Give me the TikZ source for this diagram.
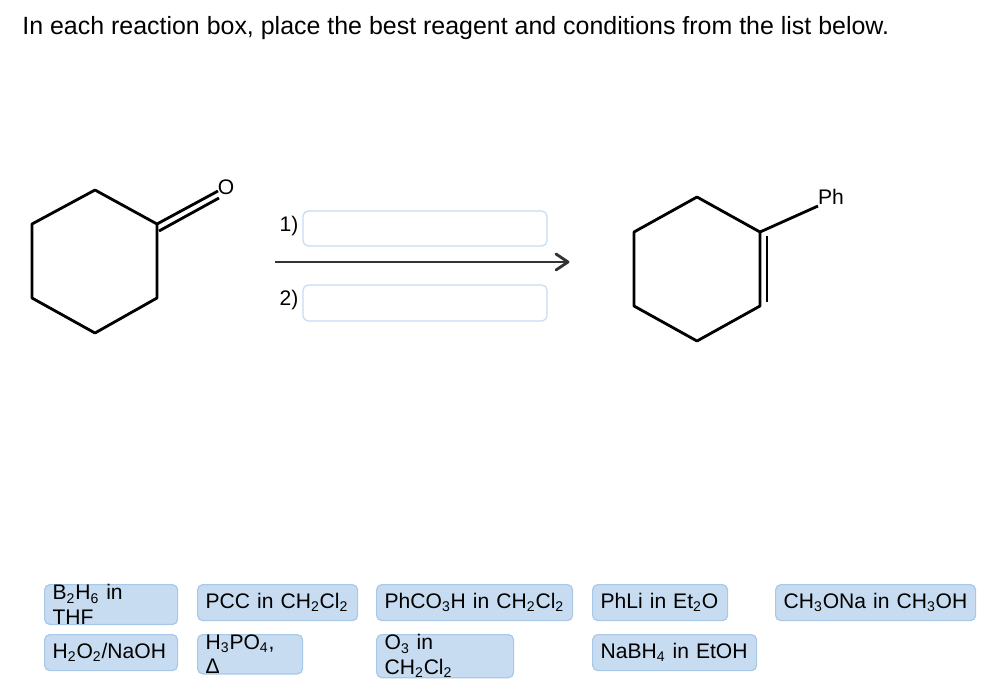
\documentclass[tikz,border=0pt]{standalone}
\usepackage{fontspec}
\setmainfont{Liberation Sans}
\newcommand{\sbs}[1]{\textsubscript{#1}}
\definecolor{rfill}{HTML}{C8DCF1}
\definecolor{rdraw}{HTML}{A8C8E8}
\definecolor{sdraw}{HTML}{C4DCF4}
\begin{document}
\begin{tikzpicture}[x=0.02cm,y=-0.02cm,
  bond/.style={line width=1.6pt,line join=round},
  slot/.style={draw=sdraw,rounded corners=3pt,line width=0.7pt},
  reag/.style={draw=rdraw,fill=rfill,rounded corners=3pt,line width=0.7pt,anchor=north west,inner xsep=0.16cm,inner ysep=0pt,align=left,text width=#1*0.02cm-0.32cm,minimum height=36*0.02cm,font=\fontsize{12pt}{14pt}\selectfont}]
\useasboundingbox (0,0) rectangle (1002,698);
\node[anchor=west,font=\fontsize{14.2pt}{17pt}\selectfont,inner sep=0pt] (title) at (22,28) {In each reaction box, place the best reagent and conditions from the list below.};
% ketone
\draw[bond] (95,190) -- (157,224) -- (157,298) -- (95,333) -- (32,298) -- (32,224) -- cycle;
\coordinate (c1) at (157,224);
\node[font=\fontsize{12pt}{14pt}\selectfont,inner sep=0pt] (O) at (226,187) {O};
\draw[bond] (c1) -- (218,191);
\draw[bond] (159,231) -- (219,198);
% product
\draw[bond] (697,197) -- (760,232) -- (760,306) -- (697,341) -- (634,306) -- (634,232) -- cycle;
\draw[bond] (767,236) -- (767,302);
\coordinate (c2) at (760,232);
\node[font=\fontsize{12pt}{14pt}\selectfont,inner sep=0pt] (Ph) at (831,197) {Ph};
\draw[bond] (c2) -- (818,206);
% arrow
\coordinate (a1) at (275,262); \coordinate (a2) at (568,262);
\draw[line width=1.6pt,black!80] (a1) -- (a2);
\draw[line width=1.6pt,black!80,line cap=round,line join=round] (556,254) -- (a2) -- (556,270);
\node[font=\fontsize{12pt}{14pt}\selectfont] (l1) at (289,226) {1)};
\node[font=\fontsize{12pt}{14pt}\selectfont] (l2) at (289,300) {2)};
\draw[slot] (303,211) rectangle (547,246);
\draw[slot] (303,285) rectangle (547,321);
% reagents
\node[reag=133] (r1) at (44,584) {B\sbs{2}H\sbs{6} in THF};
\node[reag=160] (r2) at (197,584) {PCC in CH\sbs{2}Cl\sbs{2}};
\node[reag=196] (r3) at (376,584) {PhCO\sbs{3}H in CH\sbs{2}Cl\sbs{2}};
\node[reag=135] (r4) at (592,584) {PhLi in Et\sbs{2}O};
\node[reag=200] (r5) at (775,584) {CH\sbs{3}ONa in CH\sbs{3}OH};
\node[reag=133] (r6) at (44,634) {H\sbs{2}O\sbs{2}/NaOH};
\node[reag=105] (r7) at (197,634) {H\sbs{3}PO\sbs{4}, Δ};
\node[reag=137] (r8) at (376,634) {O\sbs{3} in CH\sbs{2}Cl\sbs{2}};
\node[reag=164] (r9) at (592,634) {NaBH\sbs{4} in EtOH};
\end{tikzpicture}
\end{document}
